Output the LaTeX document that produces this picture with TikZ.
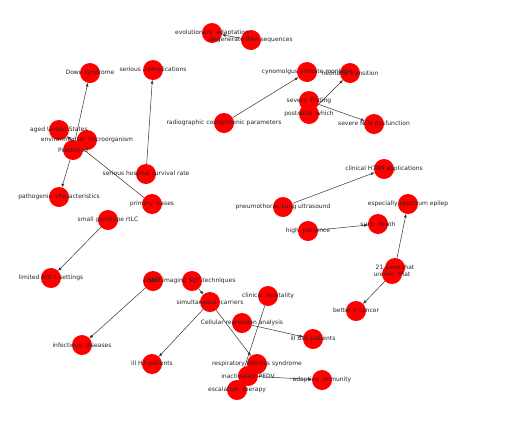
\documentclass[tikz,border=0pt]{standalone}
\usepackage{fontspec}
\setmainfont{DejaVu Sans}
\usetikzlibrary{arrows.meta,backgrounds}
\begin{document}
\begin{tikzpicture}[x=1pt,y=-1pt,
  nd/.style={circle,fill=red,minimum size=20pt,inner sep=0pt},
  lbl/.style={font=\fontsize{6}{7}\selectfont,text=black!85,inner sep=0pt},
  ed/.style={draw=black!80,line width=0.5pt,-{Triangle[length=3.5pt,width=2.6pt]}}]
\useasboundingbox (0,0) rectangle (508,429);
\foreach \n/\x/\y/\t in {
  evo/212/33/{evolutionary~~adaptation},
  deg/251/40/{degenerate RNA sequences},
  down/90/73/{Down syndrome},
  scomp/153/70/{serious~~complications},
  aged/59/130/{aged United States},
  env/87/140/{environmental~~microorganism},
  pid/73/150/{Pidotimod},
  path/59/197/{pathogenic~~characteristics},
  shsr/146/174/{serious hospital survival rate},
  prim/152/204/{primary~~cases},
  sgr/108/220/{small genotype rtLC},
  lhiv/51/278/{limited HIV-1 settings},
  rad/224/123/{radiographic costophrenic parameters},
  cyno/307/72/{cynomolgus primate monkeys},
  neo/350/73/{neonatal transition},
  sevf/309/101/{severe~~finding},
  post/309/114/{postnatal~~which},
  nox/374/124/{severe NOx dysfunction},
  hsn/384/169/{clinical H7N9 applications},
  pneu/283/207/{pneumothorax Lung ultrasound},
  epi/408/204/{especially spectrum epilep},
  such/378/224/{such~~death},
  high/308/231/{high~~presence},
  gtt/395/268/{21 gene that},
  urem/392/274/{uremic~~that},
  bet/356/311/{better γ cancer},
  pub/153/281/{public},
  sdf/192/281/{SDF imaging SDF techniques},
  sim/210/302/{simultaneous~~carriers},
  clm/268/296/{clinical~~mortality},
  cell/242/323/{Cellular regression analysis},
  bal/313/339/{ill BAL patients},
  inf/82/345/{infectious~~diseases},
  hth/152/364/{ill H3 patients},
  resp/257/364/{respiratory distress syndrome},
  inact/248/376/{inactivated~~PEDV},
  esc/237/390/{escalation~~therapy},
  adapt/322/380/{adaptive~~immunity}}
  {\node[nd] (\n) at (\x,\y) {};}
\foreach \n/\t in {
  evo/{evolutionary~~adaptation},
  deg/{degenerate RNA sequences},
  down/{Down syndrome},
  scomp/{serious~~complications},
  aged/{aged United States},
  env/{environmental~~microorganism},
  pid/{Pidotimod},
  path/{pathogenic~~characteristics},
  shsr/{serious hospital survival rate},
  prim/{primary~~cases},
  sgr/{small genotype rtLC},
  lhiv/{limited HIV-1 settings},
  rad/{radiographic costophrenic parameters},
  cyno/{cynomolgus primate monkeys},
  neo/{neonatal transition},
  sevf/{severe~~finding},
  post/{postnatal~~which},
  nox/{severe NOx dysfunction},
  hsn/{clinical H7N9 applications},
  pneu/{pneumothorax Lung ultrasound},
  epi/{especially spectrum epilep},
  such/{such~~death},
  high/{high~~presence},
  gtt/{21 gene that},
  urem/{uremic~~that},
  bet/{better γ cancer},
  pub/{public},
  sdf/{SDF imaging SDF techniques},
  sim/{simultaneous~~carriers},
  clm/{clinical~~mortality},
  cell/{Cellular regression analysis},
  bal/{ill BAL patients},
  inf/{infectious~~diseases},
  hth/{ill H3 patients},
  resp/{respiratory distress syndrome},
  inact/{inactivated~~PEDV},
  esc/{escalation~~therapy},
  adapt/{adaptive~~immunity}}
  {\node[lbl] (\n-l) at (\n) {\t};}
\begin{scope}[on background layer]
  \fill[white] (0,0) rectangle (508,429);
  \draw[ed] (deg) -- (evo);
  \draw[ed] (pid) -- (down);
  \draw[ed] (pid) -- (path);
  \draw[ed] (prim) -- (aged);
  \draw[ed] (shsr) -- (scomp);
  \draw[ed] (sgr) -- (lhiv);
  \draw[ed] (rad) -- (cyno);
  \draw[ed] (post) -- (neo);
  \draw[ed] (sevf) -- (nox);
  \draw[ed] (pneu) -- (hsn);
  \draw[ed] (high) -- (such);
  \draw[ed] (gtt) -- (epi);
  \draw[ed] (urem) -- (bet);
  \draw[ed] (pub) -- (inf);
  \draw[ed] (sdf) -- (sim);
  \draw[ed] (sim) -- (hth);
  \draw[ed] (sim) -- (resp);
  \draw[ed] (clm) -- (esc);
  \draw[ed] (cell) -- (bal);
  \draw[ed] (inact) -- (adapt);
\end{scope}
\end{tikzpicture}
\end{document}
